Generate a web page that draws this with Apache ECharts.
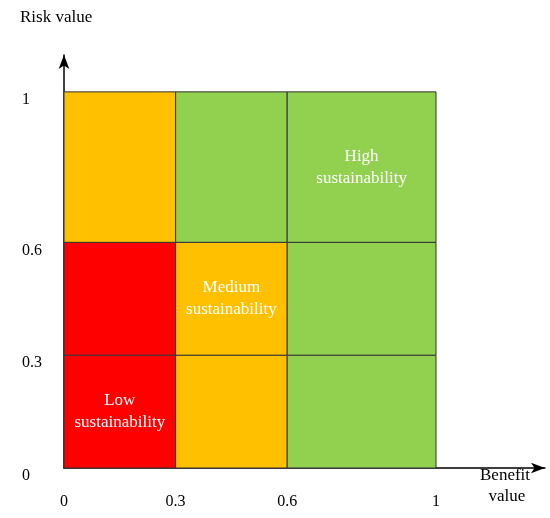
<!DOCTYPE html>
<html>
<head>
<meta charset="utf-8">
<script src="https://cdn.jsdelivr.net/npm/echarts@6/dist/echarts.min.js"></script>
<style>html,body{margin:0;padding:0;background:#fff}#chart{width:550px;height:518px}</style>
</head>
<body>
<div id="chart"></div>
<script>
// cell edges on both axes
var xEdges = [0, 0.3, 0.6, 1];
var yEdges = [0, 0.3, 0.6, 1];
var tickLabels = [0, 0.3, 0.6, 1];
// zone of each cell: rows from bottom, columns from left
var zones = [
    ['low', 'medium', 'high'],
    ['low', 'medium', 'high'],
    ['medium', 'high', 'high']
];
var zoneColors = { low: '#FF0000', medium: '#FFC000', high: '#92D050' };
// text placed in particular cells [col, row, text]
var cellTexts = [
    [0, 0, 'Low\nsustainability'],
    [1, 1, 'Medium\nsustainability'],
    [2, 2, 'High\nsustainability']
];

var cells = [];
for (var r = 0; r < 3; r++) {
    for (var c = 0; c < 3; c++) {
        var txt = '';
        cellTexts.forEach(function (t) { if (t[0] === c && t[1] === r) txt = t[2]; });
        cells.push({ value: [xEdges[c], xEdges[c + 1], yEdges[r], yEdges[r + 1]], zone: zones[r][c], text: txt });
    }
}

function renderItem(params, api) {
    var d = cells[params.dataIndex];
    var p0 = api.coord([d.value[0], d.value[3]]);
    var p1 = api.coord([d.value[1], d.value[2]]);
    return {
        type: 'group',
        children: [
            {
                type: 'rect',
                shape: { x: p0[0], y: p0[1], width: p1[0] - p0[0], height: p1[1] - p0[1] },
                style: { fill: zoneColors[d.zone], stroke: '#333', lineWidth: 1 }
            },
            {
                type: 'text',
                x: (p0[0] + p1[0]) / 2,
                y: (p0[1] + p1[1]) / 2,
                style: {
                    text: d.text, fill: '#fff', align: 'center', verticalAlign: 'middle',
                    font: '17px "Liberation Serif"', lineHeight: 22
                }
            }
        ]
    };
}

var chart = echarts.init(document.getElementById('chart'));
chart.setOption({
    animation: false,
    textStyle: { fontFamily: 'Liberation Serif' },
    grid: { left: 64, right: 5, top: 55, bottom: 50 },
    xAxis: {
        type: 'value', min: 0, max: 1.293,
        splitLine: { show: false }, axisTick: { show: false },
        axisLine: { lineStyle: { color: '#000', width: 1.5 }, symbol: ['none', 'arrow'], symbolSize: [8, 14] },
        axisLabel: { customValues: tickLabels, color: '#000', fontSize: 16, margin: 26, fontFamily: 'Liberation Serif' }
    },
    yAxis: {
        type: 'value', min: 0, max: 1.098,
        splitLine: { show: false }, axisTick: { show: false },
        axisLine: { show: true, lineStyle: { color: '#000', width: 1.5 }, symbol: ['none', 'arrow'], symbolSize: [8, 14] },
        axisLabel: { customValues: tickLabels, color: '#000', fontSize: 16, margin: 42, align: 'left', verticalAlign: 'top', fontFamily: 'Liberation Serif' }
    },
    graphic: [
        { type: 'text', left: 20, top: 9, style: { text: 'Risk value', font: '17px "Liberation Serif"', fill: '#000' } },
        { type: 'text', left: 480, top: 465, style: { text: 'Benefit\n  value', font: '17px "Liberation Serif"', fill: '#000', lineHeight: 21 } }
    ],
    series: [{
        type: 'custom',
        renderItem: renderItem,
        data: cells.map(function (d) { return d.value; }),
        encode: { x: [0, 1], y: [2, 3] },
        silent: true
    }]
});
</script>
</body>
</html>
